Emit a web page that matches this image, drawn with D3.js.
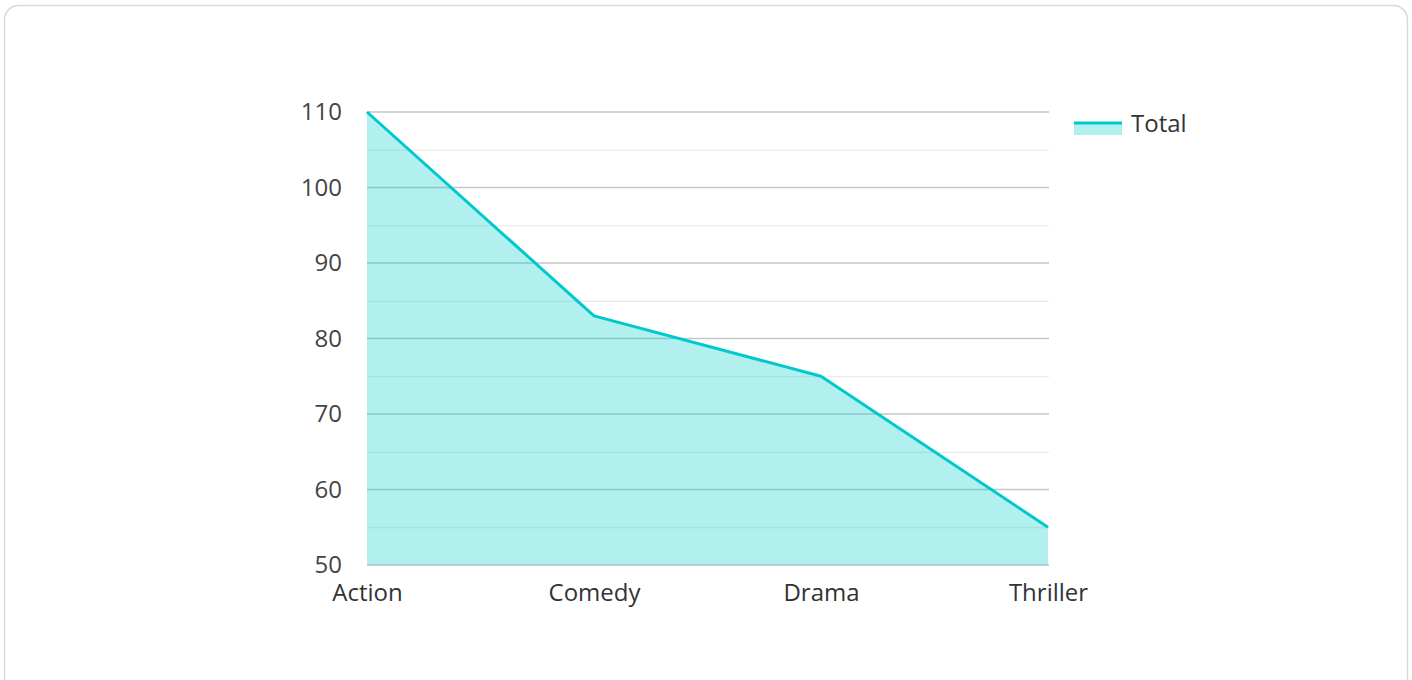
<!DOCTYPE html>
<html>
<head>
<meta charset="utf-8">
<script src="https://cdn.jsdelivr.net/npm/d3@7"></script>
<style>
  html, body { margin: 0; padding: 0; background: #fff; }
  svg { display: block; font-family: "Open Sans", sans-serif; }
</style>
</head>
<body>
<svg id="chart" width="1412" height="680"></svg>
<script>
// Genre totals
const categories = ["Action", "Comedy", "Drama", "Thriller"];
const totals = [110, 83, 75, 55];
const yTicks = [50, 60, 70, 80, 90, 100, 110];
const seriesName = "Total";

const svg = d3.select("#chart");
const W = 1412, H = 680;

// card frame
svg.append("rect")
  .attr("x", 4.5).attr("y", 5.5)
  .attr("width", W - 9).attr("height", H + 10)
  .attr("rx", 14).attr("ry", 14)
  .attr("fill", "#fff")
  .attr("stroke", "#d9d9d9")
  .attr("stroke-width", 1.5);

const plot = { left: 367, right: 1048, top: 112, bottom: 565 };

const x = d3.scalePoint().domain(categories).range([plot.left, plot.right]);
const y = d3.scaleLinear().domain([50, 110]).range([plot.bottom, plot.top]);

const data = categories.map((c, i) => ({ c, v: totals[i] }));

const g = svg.append("g");

// minor grid (every 5)
const minor = d3.range(55, 110, 10);
g.selectAll(".minor").data(minor).enter().append("line")
  .attr("x1", plot.left).attr("x2", plot.right + 1)
  .attr("y1", d => y(d) + 0.5).attr("y2", d => y(d) + 0.5)
  .attr("stroke", "#e6e6e6").attr("stroke-width", 1.2);

// major grid
g.selectAll(".major").data(yTicks).enter().append("line")
  .attr("x1", plot.left).attr("x2", plot.right + 1)
  .attr("y1", d => y(d)).attr("y2", d => y(d))
  .attr("stroke", "#c6c6c6").attr("stroke-width", 1.4);

// area
const area = d3.area()
  .x(d => x(d.c))
  .y0(y(50))
  .y1(d => y(d.v));
g.append("path").datum(data)
  .attr("d", area)
  .attr("fill", "rgba(0,204,204,0.3)");

// line
const line = d3.line().x(d => x(d.c)).y(d => y(d.v));
g.append("path").datum(data)
  .attr("d", line)
  .attr("fill", "none")
  .attr("stroke", "#00c9ce")
  .attr("stroke-width", 3)
  .attr("stroke-linejoin", "round");

// y axis labels
const yAxis = d3.axisLeft(y).tickValues(yTicks).tickSize(0).tickPadding(25);
const ya = svg.append("g").attr("transform", `translate(${plot.left},0)`).call(yAxis);
ya.select(".domain").remove();
ya.attr("font-size", 24).attr("font-family", "Open Sans, sans-serif");
ya.selectAll("text").attr("fill", "#444");

// x axis labels
const xAxis = d3.axisBottom(x).tickSize(0).tickPadding(19);
const xa = svg.append("g").attr("transform", `translate(0,${plot.bottom})`).call(xAxis);
xa.select(".domain").remove();
xa.attr("font-size", 24).attr("font-family", "Open Sans, sans-serif");
xa.selectAll("text").attr("fill", "#333");

// legend
const lg = svg.append("g").attr("transform", "translate(1074,122)");
lg.append("rect").attr("x", 0).attr("y", 1).attr("width", 48).attr("height", 12)
  .attr("fill", "rgba(0,204,204,0.3)");
lg.append("line").attr("x1", 0).attr("x2", 48).attr("y1", 1).attr("y2", 1)
  .attr("stroke", "#00c9ce").attr("stroke-width", 3);
lg.append("text").attr("x", 57).attr("y", 10)
  .attr("font-size", 24)
  .attr("fill", "#333")
  .text(seriesName);
</script>
</body>
</html>
